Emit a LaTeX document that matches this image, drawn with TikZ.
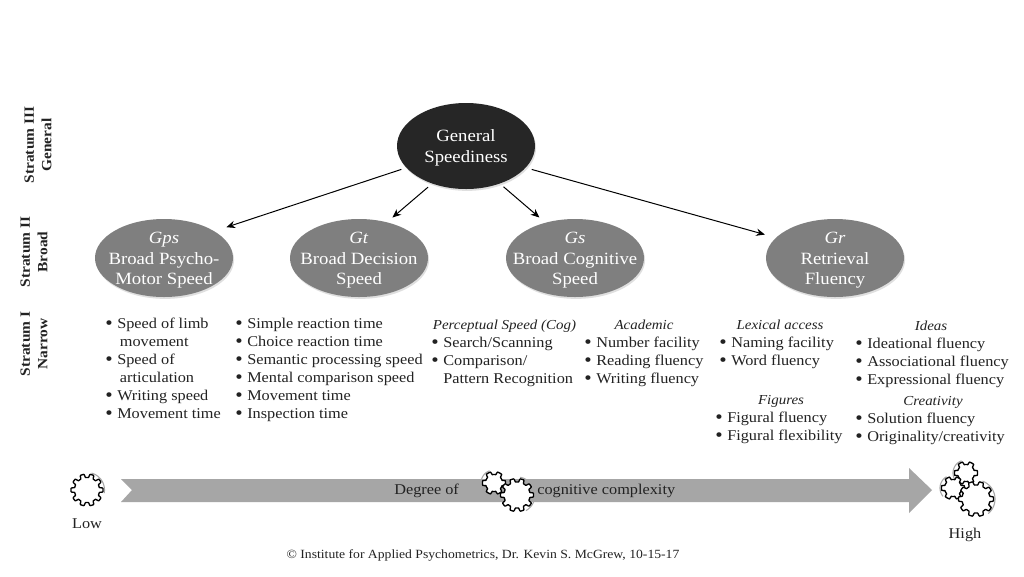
\documentclass[tikz,border=0pt]{standalone}
\usepackage{fontspec}
\setmainfont{Liberation Serif}[FakeStretch=1.09]
\usetikzlibrary{shapes.geometric,arrows.meta,shadows}
\definecolor{ink}{HTML}{222222}
\definecolor{darkfill}{HTML}{262626}
\definecolor{midfill}{HTML}{7F7F7F}
\definecolor{band}{HTML}{A6A6A6}
\tikzset{
  softshadow/.style={drop shadow={opacity=.25,shadow xshift=.8pt,shadow yshift=-1.4pt}},
  topellipse/.style={ellipse,fill=darkfill,minimum width=103.5pt,minimum height=64.5pt,inner sep=-20pt,text=white,align=center,softshadow,font=\fontsize{12.9}{15.4}\selectfont},
  midellipse/.style={ellipse,fill=midfill,minimum width=103.5pt,minimum height=58.5pt,inner sep=-20pt,text=white,align=center,softshadow,font=\fontsize{12.9}{15.4}\selectfont},
  link/.style={draw=black,line width=.75pt,-{Stealth[length=6.5pt,width=5.5pt]}},
  stratum/.style={rotate=90,align=center,inner sep=0pt,text=ink,font=\fontsize{10.6}{13.2}\selectfont\bfseries},
  listblock/.style={anchor=base west,align=left,inner sep=0pt,text=ink,font=\fontsize{11.2}{13.45}\selectfont},
  heading/.style={anchor=base,inner sep=0pt,text=ink,font=\fontsize{10.3}{13.45}\selectfont\itshape},
  plain/.style={inner sep=0pt,text=ink,font=\fontsize{11.2}{13.45}\selectfont},
  gearline/.style={draw=black,fill=white,line width=1pt,line join=round},
  gearhalo/.style={draw=black!35,line width=.8pt},
}
\newcommand{\bul}{\makebox[9pt][l]{\raisebox{-.8pt}[0pt][0pt]{\scalebox{1.3}{•}}}}
\newcommand{\cont}{\hspace*{11pt}}
\newcommand{\lift}{\rule{0pt}{12pt}}
% x, y, inner radius, outer radius, teeth, halo from, halo to
\newcommand{\gearat}[7]{%
  \draw[gearhalo] plot[domain=#6:#7,samples=30] ({#1+(#4+1.5)*cos(\x)},{#2-(#4+1.5)*sin(\x)});
  \draw[gearline] plot[domain=0:360,samples=181,variable=\t]
    ({#1+(#3+(#4-#3)*max(0,min(1,0.5+1.6*cos(#5*\t))))*cos(\t)},
     {#2+(#3+(#4-#3)*max(0,min(1,0.5+1.6*cos(#5*\t))))*sin(\t)}) -- cycle;
}
\begin{document}
\begin{tikzpicture}[x=.75pt,y=-.75pt]
\useasboundingbox (0,0) rectangle (1024,576);
\fill[white] (0,0) rectangle (1024,576);

% strata
\node[stratum] (s3) at (38,145) {Stratum III\\General};
\node[stratum] (s2) at (34,252) {Stratum II\\Broad};
\node[stratum] (s1) at (34,344) {Stratum I\\Narrow};

% ellipses
\node[topellipse] (gen) at (466,146) {\lift General\\Speediness};
\node[midellipse] (gps) at (164,258) {\lift\textit{Gps}\\Broad Psycho-\\Motor Speed};
\node[midellipse] (gt) at (359,258) {\lift\textit{Gt}\\Broad Decision\\Speed};
\node[midellipse] (gs) at (575,258) {\lift\textit{Gs}\\Broad Cognitive\\Speed};
\node[midellipse] (gr) at (835,258) {\lift\textit{Gr}\\Retrieval\\Fluency};

% links
\draw[link,shorten <=3.8pt,shorten >=9.4pt] (gen.200.8) -- (gps.28.4);
\draw[link,shorten <=4pt,shorten >=5.3pt] (gen.228.7) -- (gt.52.2);
\draw[link,shorten <=3.5pt,shorten >=5.8pt] (gen.-48.6) -- (gs.130.6);
\draw[link,shorten <=4.6pt,shorten >=8.5pt] (gen.-20.7) -- (gr.161.3);

% lists (base anchor is the last line)
\node[listblock] (l1) at (105,418.5) {\bul Speed of limb\\\cont movement\\\bul Speed of\\\cont articulation\\\bul Writing speed\\\bul Movement time};
\node[listblock] (l2) at (235,418.5) {\bul Simple reaction time\\\bul Choice reaction time\\\bul Semantic processing speed\\\bul Mental comparison speed\\\bul Movement time\\\bul Inspection time};
\node[heading] (h3) at (504.5,329) {Perceptual Speed (Cog)};
\node[listblock] (l3) at (431,383) {\bul Search/Scanning\\\bul Comparison/\\\hspace*{9pt}Pattern Recognition};
\node[heading] (h4) at (644,329) {Academic};
\node[listblock] (l4) at (584,383) {\bul Number facility\\\bul Reading fluency\\\bul Writing fluency};
\node[heading] (h5) at (780,329) {Lexical access};
\node[listblock] (l5) at (719,365) {\bul Naming facility\\\bul Word fluency};
\node[heading] (h6) at (781,404) {Figures};
\node[listblock] (l6) at (715,440) {\bul Figural fluency\\\bul Figural flexibility};
\node[heading] (h7) at (931,330) {Ideas};
\node[listblock] (l7) at (855,384) {\bul Ideational fluency\\\bul Associational fluency\\\bul Expressional fluency};
\node[heading] (h8) at (933,405) {Creativity};
\node[listblock] (l8) at (855,441) {\bul Solution fluency\\\bul Originality/creativity};

% band arrow
\fill[band] (121,479) -- (909,479) -- (909,468) -- (932,490) -- (909,513) -- (909,502) -- (121,502) -- (132,490) -- cycle;
\node[plain,anchor=base west] (deg) at (394,494) {Degree of};
\node[plain,anchor=base west] (cog) at (537,494) {cognitive complexity};

% gears
\gearat{87}{490}{12.5}{16}{10}{-10}{75}
\gearat{494}{483}{8.5}{11.5}{6}{110}{190}
\gearat{517}{495}{13}{16.5}{10}{-60}{80}
\gearat{966}{473}{8.5}{11.5}{6}{110}{220}
\gearat{953}{488}{8.5}{11.5}{6}{120}{220}
\gearat{976}{499}{14}{17.5}{10}{-50}{70}

\node[plain,anchor=base] (low) at (87,528) {Low};
\node[plain,anchor=base] (high) at (965,538) {High};
\node[plain,anchor=base,font=\fontsize{9.4}{12}\selectfont] (foot) at (483,558) {© Institute for Applied Psychometrics, Dr. Kevin S. McGrew, 10-15-17};
\end{tikzpicture}
\end{document}
